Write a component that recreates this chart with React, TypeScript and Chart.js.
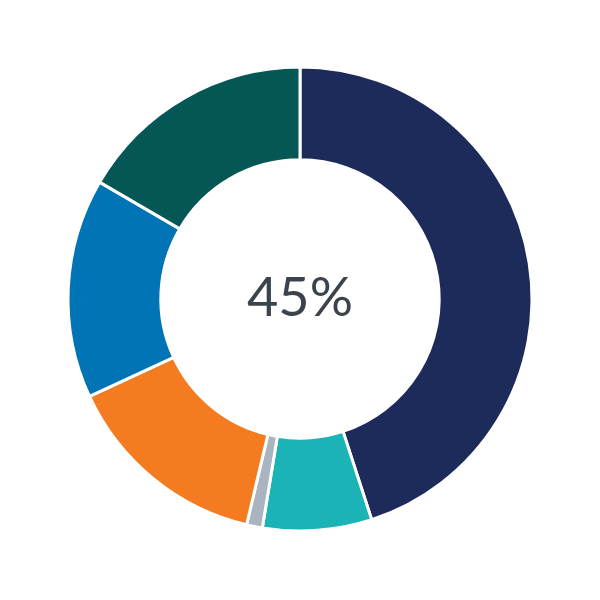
import React, { useEffect, useRef } from 'react';
import Chart from 'chart.js/auto';

const labels = ['Segment A', 'Segment B', 'Segment C', 'Segment D', 'Segment E', 'Segment F'];
const values = [45, 7.6, 1.1, 14.4, 15.3, 16.6];
const colors = ['#1c2b5a', '#1bb3b5', '#aab4c1', '#f47b20', '#0074b4', '#045755'];
const centerLabel = '45%';

const centerText = {
  id: 'centerText',
  afterDraw(chart: any) {
    const meta = chart.getDatasetMeta(0);
    const arc = meta.data[0];
    if (!arc) return;
    const { ctx } = chart;
    ctx.save();
    ctx.font = '400 54px Lato, "Open Sans", sans-serif';
    ctx.fillStyle = '#3b434d';
    ctx.textAlign = 'center';
    ctx.textBaseline = 'middle';
    ctx.fillText(centerLabel, arc.x, arc.y);
    ctx.restore();
  },
};

const App: React.FC = () => {
  const chartRef = useRef<HTMLCanvasElement>(null);
  const chartInstance = useRef<Chart<'doughnut'> | null>(null);

  useEffect(() => {
    document.body.style.margin = '0';
    if (!chartRef.current) return;
    if (chartInstance.current) chartInstance.current.destroy();
    const ctx = chartRef.current.getContext('2d');
    if (!ctx) return;

    chartInstance.current = new Chart(ctx, {
      type: 'doughnut',
      data: {
        labels,
        datasets: [
          {
            data: values,
            backgroundColor: colors,
            borderColor: '#ffffff',
            borderWidth: 3,
          },
        ],
      },
      options: {
        animation: false,
        responsive: true,
        maintainAspectRatio: false,
        radius: 232,
        cutout: '60%',
        layout: { padding: { bottom: 2 } },
        plugins: {
          legend: { display: false },
          tooltip: { enabled: false },
        },
      },
      plugins: [centerText],
    });

    return () => {
      if (chartInstance.current) {
        chartInstance.current.destroy();
        chartInstance.current = null;
      }
    };
  }, []);

  return (
    <div style={{ position: 'relative', width: 600, height: 600, background: '#ffffff' }}>
      <canvas ref={chartRef}></canvas>
    </div>
  );
};

export default App;
